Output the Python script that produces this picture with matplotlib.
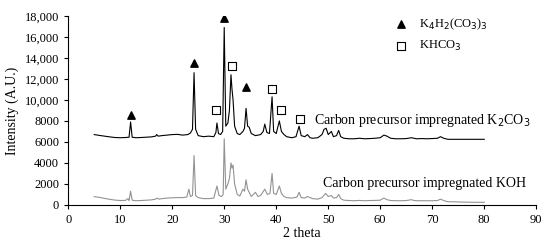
import matplotlib
matplotlib.use("Agg")
import matplotlib.pyplot as plt
from matplotlib.ticker import FuncFormatter

plt.rcParams['font.family'] = ['Liberation Serif', 'DejaVu Serif']

# K2CO3 impregnated precursor (black)
k2co3_theta = [5, 6, 7, 8, 9, 10, 11, 11.7, 12, 12.3, 13, 14, 15, 16, 16.8, 17, 17.3, 18, 19, 20,
               21, 22, 23, 23.5, 23.9, 24.2, 24.5, 25, 26, 27, 28, 28.4, 28.6, 28.9, 29.3, 29.7, 30.0,
               30.3, 30.7, 31.0, 31.3, 31.5, 31.7, 32.0, 32.5, 33, 33.6, 33.9, 34.2, 34.5, 34.8, 35.2,
               36, 37, 37.5, 37.8, 38.2, 38.7, 39.2, 39.5, 40, 40.6, 41, 41.5, 42, 43, 43.8, 44.4, 44.8,
               45.5, 46, 46.5, 47, 48, 48.8, 49.2, 49.6, 50, 50.6, 51, 51.6, 52, 52.4, 53, 54, 55, 56,
               57, 58, 59, 60, 60.7, 61.3, 62, 63, 64, 65, 66, 66.5, 67, 68, 69, 70, 71, 71.6, 72.2, 73,
               74, 75, 76, 77, 78, 79, 80]
k2co3_int = [6700, 6620, 6550, 6480, 6420, 6400, 6420, 6450, 7900, 6450, 6400, 6420, 6450, 6480, 6550,
             6700, 6550, 6600, 6650, 6700, 6720, 6650, 6700, 6850, 7200, 12600, 7200, 6600, 6500, 6550,
             6500, 6900, 7800, 6800, 6700, 7000, 16900, 7500, 7800, 9000, 12400, 11000, 10000, 7500,
             6800, 6700, 7000, 7300, 9200, 7500, 7400, 6800, 6600, 6700, 7000, 7700, 6900, 6800, 10300,
             7000, 6800, 8000, 7000, 6700, 6500, 6400, 6500, 7500, 6600, 6500, 6700, 6400, 6350, 6400,
             6700, 7200, 7300, 6700, 7000, 6500, 6600, 7100, 6500, 6350, 6300, 6300, 6350, 6300, 6320,
             6350, 6400, 6650, 6550, 6350, 6300, 6300, 6320, 6400, 6350, 6300, 6320, 6300, 6320, 6350,
             6500, 6350, 6250, 6250, 6250, 6250, 6250, 6250, 6250, 6250]

# KOH impregnated precursor (gray)
koh_theta = [5, 6, 7, 8, 9, 10, 11, 11.5, 11.7, 12, 12.3, 13, 14, 15, 16, 16.8, 17, 17.5, 18, 19, 20,
             21, 22, 22.8, 23.2, 23.5, 23.9, 24.2, 24.5, 25, 26, 27, 28, 28.6, 29, 29.5, 29.8, 30.0,
             30.3, 30.7, 31.0, 31.3, 31.5, 31.7, 32.0, 32.5, 33, 33.6, 33.9, 34.2, 34.5, 34.8, 35.2, 36,
             36.5, 37, 37.8, 38.3, 38.8, 39.2, 39.5, 40, 40.6, 41, 41.5, 42, 43, 44, 44.4, 44.8, 45.5,
             46, 47, 48, 48.8, 49.5, 50, 50.6, 51, 51.6, 52, 52.4, 53, 54, 55, 56, 57, 58, 59, 60,
             60.7, 61.3, 62, 63, 64, 65, 66, 66.5, 67, 68, 69, 70, 71, 71.6, 72.2, 73, 74, 75, 76, 77,
             78, 79, 80]
koh_int = [790, 720, 620, 530, 460, 420, 430, 600, 400, 1300, 450, 400, 420, 450, 480, 550, 650, 550,
           600, 650, 680, 700, 700, 750, 1500, 800, 900, 4700, 900, 700, 600, 600, 650, 1800, 900, 800,
           1000, 6300, 1500, 2000, 2500, 4000, 3500, 3800, 2000, 1000, 850, 1500, 1300, 2400, 1500, 1200,
           800, 1200, 800, 900, 1500, 1000, 1100, 3000, 1100, 1000, 1800, 1100, 800, 700, 650, 750, 1200,
           700, 650, 800, 600, 550, 700, 1100, 800, 900, 650, 700, 1000, 600, 450, 420, 400, 430, 400, 420,
           430, 450, 650, 500, 420, 400, 400, 420, 500, 420, 400, 400, 400, 400, 420, 550, 420, 300, 300,
           280, 270, 260, 250, 250, 250]

tri_theta = [12, 24.2, 30.0, 34.2]
tri_int = [8600, 13500, 17800, 11200]
sq_theta = [28.5, 31.5, 39.2, 41.0, 44.6]
sq_int = [9000, 13200, 11000, 9000, 8200]

fig = plt.figure(figsize=(5.5, 2.49), dpi=100)
ax = fig.add_axes([0.124, 0.177, 0.851, 0.759])

ax.plot(k2co3_theta, k2co3_int, color='black', lw=0.8)
ax.plot(koh_theta, koh_int, color='#939393', lw=0.8)
ax.scatter(tri_theta, tri_int, marker='^', s=28, color='black', zorder=3)
ax.scatter(sq_theta, sq_int, marker='s', s=30, facecolor='white', edgecolor='black', lw=0.8, zorder=3)

# legend drawn as markers + text
ax.scatter([64], [17200], marker='^', s=28, color='black', clip_on=False)
ax.text(67.5, 17200, 'K$_4$H$_2$(CO$_3$)$_3$', va='center', fontsize=9)
ax.scatter([64], [15100], marker='s', s=30, facecolor='white', edgecolor='black', lw=0.8, clip_on=False)
ax.text(67.5, 15100, 'KHCO$_3$', va='center', fontsize=9)

ax.text(47.3, 8000, 'Carbon precursor impregnated K$_2$CO$_3$', va='center', fontsize=10)
ax.text(49.0, 2000, 'Carbon precursor impregnated KOH', va='center', fontsize=10)

ax.set_xlim(0, 90)
ax.set_ylim(0, 18000)
ax.set_xticks(range(0, 91, 10))
ax.set_yticks(range(0, 18001, 2000))
ax.yaxis.set_major_formatter(FuncFormatter(lambda v, p: f'{int(v):,}' if v >= 10000 else f'{int(v)}'))
ax.tick_params(labelsize=9, length=3, direction='out')
ax.spines['top'].set_visible(False)
ax.spines['right'].set_visible(False)
ax.set_xlabel('2 theta', fontsize=10, labelpad=1)
ax.set_ylabel('Intensity (A.U.)', fontsize=10)

fig.savefig('out.png', dpi=100)
